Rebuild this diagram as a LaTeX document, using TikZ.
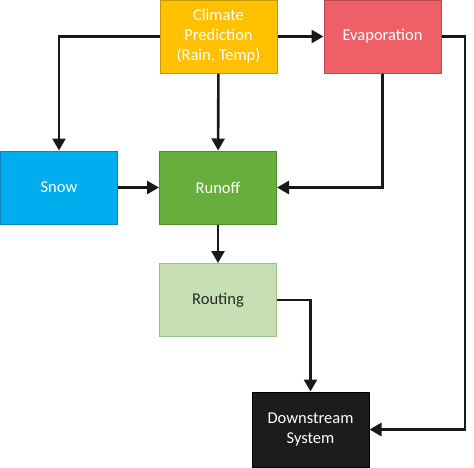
\documentclass[tikz,border=0pt]{standalone}
\usepackage{fontspec}
\setmainfont{Carlito}
\usepackage{tikz}
\usetikzlibrary{arrows.meta,positioning}

\definecolor{climateFill}{HTML}{FFC000}
\definecolor{climateLine}{HTML}{C49A00}
\definecolor{evapFill}{HTML}{EE5F68}
\definecolor{evapLine}{HTML}{B8464D}
\definecolor{snowFill}{HTML}{00AEEF}
\definecolor{snowLine}{HTML}{0A86B8}
\definecolor{runoffFill}{HTML}{67AE3D}
\definecolor{runoffLine}{HTML}{4C8A2E}
\definecolor{routingFill}{HTML}{C6E0B4}
\definecolor{routingLine}{HTML}{9CC083}
\definecolor{downFill}{HTML}{1C1C1C}

\begin{document}
\begin{tikzpicture}[x=1pt, y=-1pt]
			\tikzstyle{Block}	= [rectangle, draw, line width=1pt, minimum width=117pt, minimum height=73pt, inner sep=2pt, align=center, text=white, font=\fontsize{16.5}{20}\selectfont]
			\tikzstyle{Climate}	= [Block, fill=climateFill, draw=climateLine]
			\tikzstyle{Evap}	= [Block, fill=evapFill, draw=evapLine]
			\tikzstyle{Snow}	= [Block, fill=snowFill, draw=snowLine]
			\tikzstyle{Runoff}	= [Block, fill=runoffFill, draw=runoffLine]
			\tikzstyle{Routing}	= [Block, fill=routingFill, draw=routingLine, text=black!85]
			\tikzstyle{Down}	= [Block, fill=downFill, draw=black, minimum height=75pt]
			\tikzstyle{Flow}	= [line width=2.6pt, black!90, -{Triangle[length=12pt, width=13pt]}]
			
			\useasboundingbox (0, 0) rectangle (474, 467);
			
			\node (climate) at (218.5, 36.5) [Climate] {Climate\\Prediction\\(Rain, Temp)};
			\node (evap) at (382.5, 36.5) [Evap] {Evaporation};
			\node (snow) at (59, 187.5) [Snow] {Snow};
			\node (runoff) at (218, 187.5) [Runoff] {Runoff};
			\node (routing) at (218, 300) [Routing] {Routing};
			\node (down) at (310.5, 429.5) [Down] {Downstream\\System};
			\coordinate (bend) at (465, 36.5);
			
			\draw [Flow] (climate.west) -| (snow.north);
			\draw [Flow] (climate) to (evap);
			\draw [Flow] (climate) to (runoff);
			\draw [Flow] (snow) to (runoff);
			\draw [Flow] (evap.south) |- (runoff.east);
			\draw [Flow] (evap.east) -- (bend) |- (down.east);
			\draw [Flow] (runoff) to (routing);
			\draw [Flow] (routing.east) -| (down.north);
		\end{tikzpicture}
\end{document}
